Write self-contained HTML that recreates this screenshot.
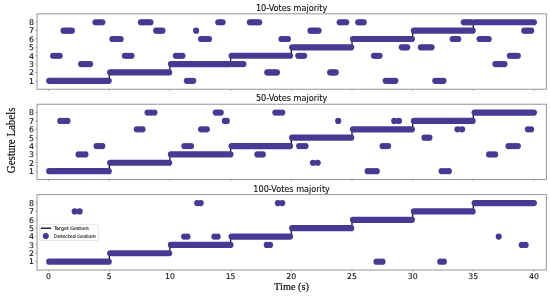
<!DOCTYPE html><html><head><meta charset="utf-8"><title>Votes majority</title><style>html,body{margin:0;padding:0;background:#fff}svg{display:block}text{font-family:"DejaVu Sans","Liberation Sans",sans-serif;fill:#111;stroke:#111;stroke-width:0.12px}.s{font-family:"Liberation Serif","DejaVu Serif",serif;fill:#000;stroke:#000;stroke-width:0.15px}</style></head><body>
<svg width="550" height="296" viewBox="0 0 550 296">
<rect width="550" height="296" fill="#fff"/>
<path d="M48.6,80.8 L109.3,80.8 L109.3,72.5 L169.9,72.5 L169.9,64.1 L230.6,64.1 L230.6,55.7 L291.3,55.7 L291.3,47.4 L352.0,47.4 L352.0,39.0 L412.7,39.0 L412.7,30.6 L473.3,30.6 L473.3,22.3 L534.0,22.3" fill="none" stroke="#000" stroke-width="1.2"/>
<g fill="#463a92">
<rect x="46.1" y="77.73" width="65.7" height="6.2" rx="3.1" ry="3.1"/>
<rect x="107.1" y="69.37" width="65.1" height="6.2" rx="3.1" ry="3.1"/>
<rect x="167.8" y="61.00" width="65.7" height="6.2" rx="3.1" ry="3.1"/>
<rect x="228.5" y="52.63" width="64.6" height="6.2" rx="3.1" ry="3.1"/>
<rect x="289.1" y="44.27" width="65.2" height="6.2" rx="3.1" ry="3.1"/>
<rect x="349.9" y="35.90" width="65.1" height="6.2" rx="3.1" ry="3.1"/>
<rect x="410.8" y="27.53" width="64.9" height="6.2" rx="3.1" ry="3.1"/>
<rect x="471.5" y="19.17" width="65.5" height="6.2" rx="3.1" ry="3.1"/>
<circle cx="53.1" cy="55.73" r="3.1"/>
<circle cx="55.3" cy="55.73" r="3.1"/>
<circle cx="57.4" cy="55.73" r="3.1"/>
<circle cx="59.6" cy="55.73" r="3.1"/>
<circle cx="63.6" cy="30.63" r="3.1"/>
<circle cx="65.7" cy="30.63" r="3.1"/>
<circle cx="67.7" cy="30.63" r="3.1"/>
<circle cx="69.8" cy="30.63" r="3.1"/>
<circle cx="71.8" cy="30.63" r="3.1"/>
<circle cx="81.1" cy="64.10" r="3.1"/>
<circle cx="83.3" cy="64.10" r="3.1"/>
<circle cx="85.6" cy="64.10" r="3.1"/>
<circle cx="87.8" cy="64.10" r="3.1"/>
<circle cx="90.1" cy="64.10" r="3.1"/>
<circle cx="95.5" cy="22.27" r="3.1"/>
<circle cx="97.8" cy="22.27" r="3.1"/>
<circle cx="100.0" cy="22.27" r="3.1"/>
<circle cx="102.3" cy="22.27" r="3.1"/>
<circle cx="112.4" cy="39.00" r="3.1"/>
<circle cx="114.5" cy="39.00" r="3.1"/>
<circle cx="116.5" cy="39.00" r="3.1"/>
<circle cx="118.5" cy="39.00" r="3.1"/>
<circle cx="120.6" cy="39.00" r="3.1"/>
<circle cx="124.9" cy="55.73" r="3.1"/>
<circle cx="127.1" cy="55.73" r="3.1"/>
<circle cx="129.2" cy="55.73" r="3.1"/>
<circle cx="131.4" cy="55.73" r="3.1"/>
<circle cx="140.9" cy="22.27" r="3.1"/>
<circle cx="142.8" cy="22.27" r="3.1"/>
<circle cx="144.7" cy="22.27" r="3.1"/>
<circle cx="146.7" cy="22.27" r="3.1"/>
<circle cx="148.6" cy="22.27" r="3.1"/>
<circle cx="150.5" cy="22.27" r="3.1"/>
<circle cx="156.2" cy="30.63" r="3.1"/>
<circle cx="158.3" cy="30.63" r="3.1"/>
<circle cx="160.3" cy="30.63" r="3.1"/>
<circle cx="162.4" cy="30.63" r="3.1"/>
<circle cx="175.9" cy="55.73" r="3.1"/>
<circle cx="178.1" cy="55.73" r="3.1"/>
<circle cx="180.2" cy="55.73" r="3.1"/>
<circle cx="182.4" cy="55.73" r="3.1"/>
<circle cx="186.9" cy="80.83" r="3.1"/>
<circle cx="189.0" cy="80.83" r="3.1"/>
<circle cx="191.1" cy="80.83" r="3.1"/>
<circle cx="193.2" cy="80.83" r="3.1"/>
<circle cx="196.1" cy="30.63" r="3.1"/>
<circle cx="201.1" cy="39.00" r="3.1"/>
<circle cx="203.1" cy="39.00" r="3.1"/>
<circle cx="205.1" cy="39.00" r="3.1"/>
<circle cx="207.0" cy="39.00" r="3.1"/>
<circle cx="209.0" cy="39.00" r="3.1"/>
<circle cx="218.3" cy="22.27" r="3.1"/>
<circle cx="220.4" cy="22.27" r="3.1"/>
<circle cx="222.6" cy="22.27" r="3.1"/>
<circle cx="233.8" cy="64.10" r="3.1"/>
<circle cx="235.7" cy="64.10" r="3.1"/>
<circle cx="237.6" cy="64.10" r="3.1"/>
<circle cx="239.6" cy="64.10" r="3.1"/>
<circle cx="241.5" cy="64.10" r="3.1"/>
<circle cx="243.4" cy="64.10" r="3.1"/>
<circle cx="249.9" cy="22.27" r="3.1"/>
<circle cx="251.8" cy="22.27" r="3.1"/>
<circle cx="253.6" cy="22.27" r="3.1"/>
<circle cx="255.5" cy="22.27" r="3.1"/>
<circle cx="257.3" cy="22.27" r="3.1"/>
<circle cx="259.2" cy="22.27" r="3.1"/>
<circle cx="267.3" cy="72.47" r="3.1"/>
<circle cx="269.2" cy="72.47" r="3.1"/>
<circle cx="271.1" cy="72.47" r="3.1"/>
<circle cx="273.1" cy="72.47" r="3.1"/>
<circle cx="275.0" cy="72.47" r="3.1"/>
<circle cx="276.9" cy="72.47" r="3.1"/>
<circle cx="281.5" cy="39.00" r="3.1"/>
<circle cx="283.6" cy="39.00" r="3.1"/>
<circle cx="285.8" cy="39.00" r="3.1"/>
<circle cx="287.9" cy="39.00" r="3.1"/>
<circle cx="298.3" cy="55.73" r="3.1"/>
<circle cx="300.2" cy="55.73" r="3.1"/>
<circle cx="302.2" cy="55.73" r="3.1"/>
<circle cx="304.1" cy="55.73" r="3.1"/>
<circle cx="310.5" cy="30.63" r="3.1"/>
<circle cx="312.5" cy="30.63" r="3.1"/>
<circle cx="314.5" cy="30.63" r="3.1"/>
<circle cx="316.5" cy="30.63" r="3.1"/>
<circle cx="318.5" cy="30.63" r="3.1"/>
<circle cx="330.2" cy="72.47" r="3.1"/>
<circle cx="332.0" cy="72.47" r="3.1"/>
<circle cx="333.9" cy="72.47" r="3.1"/>
<circle cx="335.7" cy="72.47" r="3.1"/>
<circle cx="339.7" cy="22.27" r="3.1"/>
<circle cx="341.9" cy="22.27" r="3.1"/>
<circle cx="344.0" cy="22.27" r="3.1"/>
<circle cx="346.2" cy="22.27" r="3.1"/>
<circle cx="358.2" cy="22.27" r="3.1"/>
<circle cx="360.0" cy="22.27" r="3.1"/>
<circle cx="361.9" cy="22.27" r="3.1"/>
<circle cx="363.7" cy="22.27" r="3.1"/>
<circle cx="374.0" cy="55.73" r="3.1"/>
<circle cx="375.8" cy="55.73" r="3.1"/>
<circle cx="377.7" cy="55.73" r="3.1"/>
<circle cx="379.5" cy="55.73" r="3.1"/>
<circle cx="385.7" cy="80.83" r="3.1"/>
<circle cx="387.6" cy="80.83" r="3.1"/>
<circle cx="389.5" cy="80.83" r="3.1"/>
<circle cx="391.5" cy="80.83" r="3.1"/>
<circle cx="393.4" cy="80.83" r="3.1"/>
<circle cx="395.3" cy="80.83" r="3.1"/>
<circle cx="401.8" cy="47.37" r="3.1"/>
<circle cx="403.6" cy="47.37" r="3.1"/>
<circle cx="405.4" cy="47.37" r="3.1"/>
<circle cx="407.2" cy="47.37" r="3.1"/>
<circle cx="420.9" cy="47.37" r="3.1"/>
<circle cx="423.0" cy="47.37" r="3.1"/>
<circle cx="425.2" cy="47.37" r="3.1"/>
<circle cx="427.3" cy="47.37" r="3.1"/>
<circle cx="429.5" cy="47.37" r="3.1"/>
<circle cx="431.6" cy="47.37" r="3.1"/>
<circle cx="435.3" cy="80.83" r="3.1"/>
<circle cx="437.4" cy="80.83" r="3.1"/>
<circle cx="439.4" cy="80.83" r="3.1"/>
<circle cx="441.4" cy="80.83" r="3.1"/>
<circle cx="443.5" cy="80.83" r="3.1"/>
<circle cx="452.7" cy="39.00" r="3.1"/>
<circle cx="454.5" cy="39.00" r="3.1"/>
<circle cx="456.4" cy="39.00" r="3.1"/>
<circle cx="458.2" cy="39.00" r="3.1"/>
<circle cx="463.8" cy="22.27" r="3.1"/>
<circle cx="465.6" cy="22.27" r="3.1"/>
<circle cx="467.4" cy="22.27" r="3.1"/>
<circle cx="469.2" cy="22.27" r="3.1"/>
<circle cx="471.0" cy="22.27" r="3.1"/>
<circle cx="479.6" cy="39.00" r="3.1"/>
<circle cx="481.4" cy="39.00" r="3.1"/>
<circle cx="483.2" cy="39.00" r="3.1"/>
<circle cx="485.1" cy="39.00" r="3.1"/>
<circle cx="486.9" cy="39.00" r="3.1"/>
<circle cx="488.7" cy="39.00" r="3.1"/>
<circle cx="495.4" cy="64.10" r="3.1"/>
<circle cx="497.2" cy="64.10" r="3.1"/>
<circle cx="499.0" cy="64.10" r="3.1"/>
<circle cx="500.9" cy="64.10" r="3.1"/>
<circle cx="502.7" cy="64.10" r="3.1"/>
<circle cx="504.5" cy="64.10" r="3.1"/>
<circle cx="509.9" cy="55.73" r="3.1"/>
<circle cx="511.9" cy="55.73" r="3.1"/>
<circle cx="513.8" cy="55.73" r="3.1"/>
<circle cx="515.8" cy="55.73" r="3.1"/>
<circle cx="517.8" cy="55.73" r="3.1"/>
<circle cx="524.3" cy="30.63" r="3.1"/>
<circle cx="526.6" cy="30.63" r="3.1"/>
<circle cx="528.8" cy="30.63" r="3.1"/>
<circle cx="531.1" cy="30.63" r="3.1"/>
</g>
<rect x="37.0" y="13.9" width="509.3" height="75.3" fill="none" stroke="#7a7a7a" stroke-width="0.8"/>
<line x1="48.6" y1="89.2" x2="48.6" y2="90.8" stroke="#777" stroke-width="0.6"/>
<line x1="109.3" y1="89.2" x2="109.3" y2="90.8" stroke="#777" stroke-width="0.6"/>
<line x1="169.9" y1="89.2" x2="169.9" y2="90.8" stroke="#777" stroke-width="0.6"/>
<line x1="230.6" y1="89.2" x2="230.6" y2="90.8" stroke="#777" stroke-width="0.6"/>
<line x1="291.3" y1="89.2" x2="291.3" y2="90.8" stroke="#777" stroke-width="0.6"/>
<line x1="352.0" y1="89.2" x2="352.0" y2="90.8" stroke="#777" stroke-width="0.6"/>
<line x1="412.7" y1="89.2" x2="412.7" y2="90.8" stroke="#777" stroke-width="0.6"/>
<line x1="473.3" y1="89.2" x2="473.3" y2="90.8" stroke="#777" stroke-width="0.6"/>
<line x1="534.0" y1="89.2" x2="534.0" y2="90.8" stroke="#777" stroke-width="0.6"/>
<line x1="35.4" y1="80.83" x2="37.0" y2="80.83" stroke="#777" stroke-width="0.6"/>
<text x="33.9" y="83.68" font-size="7.8" text-anchor="end">1</text>
<line x1="35.4" y1="72.47" x2="37.0" y2="72.47" stroke="#777" stroke-width="0.6"/>
<text x="33.9" y="75.32" font-size="7.8" text-anchor="end">2</text>
<line x1="35.4" y1="64.10" x2="37.0" y2="64.10" stroke="#777" stroke-width="0.6"/>
<text x="33.9" y="66.95" font-size="7.8" text-anchor="end">3</text>
<line x1="35.4" y1="55.73" x2="37.0" y2="55.73" stroke="#777" stroke-width="0.6"/>
<text x="33.9" y="58.58" font-size="7.8" text-anchor="end">4</text>
<line x1="35.4" y1="47.37" x2="37.0" y2="47.37" stroke="#777" stroke-width="0.6"/>
<text x="33.9" y="50.22" font-size="7.8" text-anchor="end">5</text>
<line x1="35.4" y1="39.00" x2="37.0" y2="39.00" stroke="#777" stroke-width="0.6"/>
<text x="33.9" y="41.85" font-size="7.8" text-anchor="end">6</text>
<line x1="35.4" y1="30.63" x2="37.0" y2="30.63" stroke="#777" stroke-width="0.6"/>
<text x="33.9" y="33.48" font-size="7.8" text-anchor="end">7</text>
<line x1="35.4" y1="22.27" x2="37.0" y2="22.27" stroke="#777" stroke-width="0.6"/>
<text x="33.9" y="25.12" font-size="7.8" text-anchor="end">8</text>
<text x="291.6" y="11.0" font-size="8.15" text-anchor="middle">10-Votes majority</text>
<path d="M48.6,171.1 L109.3,171.1 L109.3,162.8 L169.9,162.8 L169.9,154.4 L230.6,154.4 L230.6,146.0 L291.3,146.0 L291.3,137.7 L352.0,137.7 L352.0,129.3 L412.7,129.3 L412.7,120.9 L473.3,120.9 L473.3,112.6 L534.0,112.6" fill="none" stroke="#000" stroke-width="1.2"/>
<g fill="#463a92">
<rect x="46.1" y="168.03" width="65.7" height="6.2" rx="3.1" ry="3.1"/>
<rect x="107.1" y="159.67" width="65.1" height="6.2" rx="3.1" ry="3.1"/>
<rect x="167.8" y="151.30" width="65.7" height="6.2" rx="3.1" ry="3.1"/>
<rect x="228.5" y="142.93" width="64.6" height="6.2" rx="3.1" ry="3.1"/>
<rect x="289.1" y="134.57" width="65.2" height="6.2" rx="3.1" ry="3.1"/>
<rect x="349.9" y="126.20" width="65.1" height="6.2" rx="3.1" ry="3.1"/>
<rect x="410.8" y="117.83" width="64.9" height="6.2" rx="3.1" ry="3.1"/>
<rect x="471.5" y="109.47" width="65.5" height="6.2" rx="3.1" ry="3.1"/>
<circle cx="60.3" cy="120.93" r="3.1"/>
<circle cx="63.9" cy="120.93" r="3.1"/>
<circle cx="67.4" cy="120.93" r="3.1"/>
<circle cx="78.6" cy="154.40" r="3.1"/>
<circle cx="82.0" cy="154.40" r="3.1"/>
<circle cx="85.4" cy="154.40" r="3.1"/>
<circle cx="96.6" cy="146.03" r="3.1"/>
<circle cx="99.4" cy="146.03" r="3.1"/>
<circle cx="102.3" cy="146.03" r="3.1"/>
<circle cx="136.8" cy="129.30" r="3.1"/>
<circle cx="139.7" cy="129.30" r="3.1"/>
<circle cx="142.5" cy="129.30" r="3.1"/>
<circle cx="147.6" cy="112.57" r="3.1"/>
<circle cx="151.0" cy="112.57" r="3.1"/>
<circle cx="154.4" cy="112.57" r="3.1"/>
<circle cx="184.4" cy="146.03" r="3.1"/>
<circle cx="187.7" cy="146.03" r="3.1"/>
<circle cx="191.0" cy="146.03" r="3.1"/>
<circle cx="201.1" cy="129.30" r="3.1"/>
<circle cx="203.9" cy="129.30" r="3.1"/>
<circle cx="206.8" cy="129.30" r="3.1"/>
<circle cx="215.8" cy="112.57" r="3.1"/>
<circle cx="218.2" cy="112.57" r="3.1"/>
<circle cx="220.7" cy="112.57" r="3.1"/>
<circle cx="224.9" cy="120.93" r="3.1"/>
<circle cx="226.8" cy="120.93" r="3.1"/>
<circle cx="257.4" cy="154.40" r="3.1"/>
<circle cx="260.1" cy="154.40" r="3.1"/>
<circle cx="262.8" cy="154.40" r="3.1"/>
<circle cx="275.4" cy="112.57" r="3.1"/>
<circle cx="278.8" cy="112.57" r="3.1"/>
<circle cx="282.2" cy="112.57" r="3.1"/>
<circle cx="299.2" cy="146.03" r="3.1"/>
<circle cx="302.4" cy="146.03" r="3.1"/>
<circle cx="305.5" cy="146.03" r="3.1"/>
<circle cx="313.0" cy="162.77" r="3.1"/>
<circle cx="317.7" cy="162.77" r="3.1"/>
<circle cx="338.2" cy="120.93" r="3.1"/>
<circle cx="367.7" cy="171.13" r="3.1"/>
<circle cx="370.7" cy="171.13" r="3.1"/>
<circle cx="373.7" cy="171.13" r="3.1"/>
<circle cx="376.7" cy="171.13" r="3.1"/>
<circle cx="382.6" cy="146.03" r="3.1"/>
<circle cx="385.4" cy="146.03" r="3.1"/>
<circle cx="388.1" cy="146.03" r="3.1"/>
<circle cx="394.3" cy="120.93" r="3.1"/>
<circle cx="398.9" cy="120.93" r="3.1"/>
<circle cx="424.5" cy="137.67" r="3.1"/>
<circle cx="426.9" cy="137.67" r="3.1"/>
<circle cx="429.4" cy="137.67" r="3.1"/>
<circle cx="441.7" cy="171.13" r="3.1"/>
<circle cx="445.2" cy="171.13" r="3.1"/>
<circle cx="448.8" cy="171.13" r="3.1"/>
<circle cx="457.5" cy="129.30" r="3.1"/>
<circle cx="462.1" cy="129.30" r="3.1"/>
<circle cx="489.1" cy="154.40" r="3.1"/>
<circle cx="492.1" cy="154.40" r="3.1"/>
<circle cx="495.1" cy="154.40" r="3.1"/>
<circle cx="508.5" cy="146.03" r="3.1"/>
<circle cx="511.6" cy="146.03" r="3.1"/>
<circle cx="514.7" cy="146.03" r="3.1"/>
<circle cx="517.8" cy="146.03" r="3.1"/>
<circle cx="527.9" cy="129.30" r="3.1"/>
<circle cx="531.1" cy="129.30" r="3.1"/>
</g>
<rect x="37.0" y="104.2" width="509.3" height="75.3" fill="none" stroke="#7a7a7a" stroke-width="0.8"/>
<line x1="48.6" y1="179.5" x2="48.6" y2="181.1" stroke="#777" stroke-width="0.6"/>
<line x1="109.3" y1="179.5" x2="109.3" y2="181.1" stroke="#777" stroke-width="0.6"/>
<line x1="169.9" y1="179.5" x2="169.9" y2="181.1" stroke="#777" stroke-width="0.6"/>
<line x1="230.6" y1="179.5" x2="230.6" y2="181.1" stroke="#777" stroke-width="0.6"/>
<line x1="291.3" y1="179.5" x2="291.3" y2="181.1" stroke="#777" stroke-width="0.6"/>
<line x1="352.0" y1="179.5" x2="352.0" y2="181.1" stroke="#777" stroke-width="0.6"/>
<line x1="412.7" y1="179.5" x2="412.7" y2="181.1" stroke="#777" stroke-width="0.6"/>
<line x1="473.3" y1="179.5" x2="473.3" y2="181.1" stroke="#777" stroke-width="0.6"/>
<line x1="534.0" y1="179.5" x2="534.0" y2="181.1" stroke="#777" stroke-width="0.6"/>
<line x1="35.4" y1="171.13" x2="37.0" y2="171.13" stroke="#777" stroke-width="0.6"/>
<text x="33.9" y="173.98" font-size="7.8" text-anchor="end">1</text>
<line x1="35.4" y1="162.77" x2="37.0" y2="162.77" stroke="#777" stroke-width="0.6"/>
<text x="33.9" y="165.62" font-size="7.8" text-anchor="end">2</text>
<line x1="35.4" y1="154.40" x2="37.0" y2="154.40" stroke="#777" stroke-width="0.6"/>
<text x="33.9" y="157.25" font-size="7.8" text-anchor="end">3</text>
<line x1="35.4" y1="146.03" x2="37.0" y2="146.03" stroke="#777" stroke-width="0.6"/>
<text x="33.9" y="148.88" font-size="7.8" text-anchor="end">4</text>
<line x1="35.4" y1="137.67" x2="37.0" y2="137.67" stroke="#777" stroke-width="0.6"/>
<text x="33.9" y="140.52" font-size="7.8" text-anchor="end">5</text>
<line x1="35.4" y1="129.30" x2="37.0" y2="129.30" stroke="#777" stroke-width="0.6"/>
<text x="33.9" y="132.15" font-size="7.8" text-anchor="end">6</text>
<line x1="35.4" y1="120.93" x2="37.0" y2="120.93" stroke="#777" stroke-width="0.6"/>
<text x="33.9" y="123.78" font-size="7.8" text-anchor="end">7</text>
<line x1="35.4" y1="112.57" x2="37.0" y2="112.57" stroke="#777" stroke-width="0.6"/>
<text x="33.9" y="115.42" font-size="7.8" text-anchor="end">8</text>
<text x="291.6" y="101.3" font-size="8.15" text-anchor="middle">50-Votes majority</text>
<path d="M48.6,261.6 L109.3,261.6 L109.3,253.3 L169.9,253.3 L169.9,244.9 L230.6,244.9 L230.6,236.5 L291.3,236.5 L291.3,228.2 L352.0,228.2 L352.0,219.8 L412.7,219.8 L412.7,211.4 L473.3,211.4 L473.3,203.1 L534.0,203.1" fill="none" stroke="#000" stroke-width="1.2"/>
<g fill="#463a92">
<rect x="46.1" y="258.53" width="65.7" height="6.2" rx="3.1" ry="3.1"/>
<rect x="107.1" y="250.17" width="65.1" height="6.2" rx="3.1" ry="3.1"/>
<rect x="167.8" y="241.80" width="65.7" height="6.2" rx="3.1" ry="3.1"/>
<rect x="228.5" y="233.43" width="64.6" height="6.2" rx="3.1" ry="3.1"/>
<rect x="289.1" y="225.07" width="65.2" height="6.2" rx="3.1" ry="3.1"/>
<rect x="349.9" y="216.70" width="65.1" height="6.2" rx="3.1" ry="3.1"/>
<rect x="410.8" y="208.33" width="64.9" height="6.2" rx="3.1" ry="3.1"/>
<rect x="471.5" y="199.97" width="65.5" height="6.2" rx="3.1" ry="3.1"/>
<circle cx="74.7" cy="211.43" r="3.1"/>
<circle cx="79.6" cy="211.43" r="3.1"/>
<circle cx="197.2" cy="203.07" r="3.1"/>
<circle cx="200.7" cy="203.07" r="3.1"/>
<circle cx="184.2" cy="236.53" r="3.1"/>
<circle cx="187.4" cy="236.53" r="3.1"/>
<circle cx="214.4" cy="236.53" r="3.1"/>
<circle cx="217.6" cy="236.53" r="3.1"/>
<circle cx="266.8" cy="244.90" r="3.1"/>
<circle cx="270.0" cy="244.90" r="3.1"/>
<circle cx="277.9" cy="203.07" r="3.1"/>
<circle cx="282.2" cy="203.07" r="3.1"/>
<circle cx="376.5" cy="261.63" r="3.1"/>
<circle cx="379.5" cy="261.63" r="3.1"/>
<circle cx="382.5" cy="261.63" r="3.1"/>
<circle cx="440.3" cy="261.63" r="3.1"/>
<circle cx="443.8" cy="261.63" r="3.1"/>
<circle cx="498.7" cy="236.53" r="3.1"/>
<circle cx="521.8" cy="244.90" r="3.1"/>
<circle cx="525.6" cy="244.90" r="3.1"/>
</g>
<rect x="37.0" y="194.7" width="509.3" height="75.3" fill="none" stroke="#7a7a7a" stroke-width="0.8"/>
<line x1="48.6" y1="270.0" x2="48.6" y2="271.6" stroke="#777" stroke-width="0.6"/>
<line x1="109.3" y1="270.0" x2="109.3" y2="271.6" stroke="#777" stroke-width="0.6"/>
<line x1="169.9" y1="270.0" x2="169.9" y2="271.6" stroke="#777" stroke-width="0.6"/>
<line x1="230.6" y1="270.0" x2="230.6" y2="271.6" stroke="#777" stroke-width="0.6"/>
<line x1="291.3" y1="270.0" x2="291.3" y2="271.6" stroke="#777" stroke-width="0.6"/>
<line x1="352.0" y1="270.0" x2="352.0" y2="271.6" stroke="#777" stroke-width="0.6"/>
<line x1="412.7" y1="270.0" x2="412.7" y2="271.6" stroke="#777" stroke-width="0.6"/>
<line x1="473.3" y1="270.0" x2="473.3" y2="271.6" stroke="#777" stroke-width="0.6"/>
<line x1="534.0" y1="270.0" x2="534.0" y2="271.6" stroke="#777" stroke-width="0.6"/>
<line x1="35.4" y1="261.63" x2="37.0" y2="261.63" stroke="#777" stroke-width="0.6"/>
<text x="33.9" y="264.48" font-size="7.8" text-anchor="end">1</text>
<line x1="35.4" y1="253.27" x2="37.0" y2="253.27" stroke="#777" stroke-width="0.6"/>
<text x="33.9" y="256.12" font-size="7.8" text-anchor="end">2</text>
<line x1="35.4" y1="244.90" x2="37.0" y2="244.90" stroke="#777" stroke-width="0.6"/>
<text x="33.9" y="247.75" font-size="7.8" text-anchor="end">3</text>
<line x1="35.4" y1="236.53" x2="37.0" y2="236.53" stroke="#777" stroke-width="0.6"/>
<text x="33.9" y="239.38" font-size="7.8" text-anchor="end">4</text>
<line x1="35.4" y1="228.17" x2="37.0" y2="228.17" stroke="#777" stroke-width="0.6"/>
<text x="33.9" y="231.02" font-size="7.8" text-anchor="end">5</text>
<line x1="35.4" y1="219.80" x2="37.0" y2="219.80" stroke="#777" stroke-width="0.6"/>
<text x="33.9" y="222.65" font-size="7.8" text-anchor="end">6</text>
<line x1="35.4" y1="211.43" x2="37.0" y2="211.43" stroke="#777" stroke-width="0.6"/>
<text x="33.9" y="214.28" font-size="7.8" text-anchor="end">7</text>
<line x1="35.4" y1="203.07" x2="37.0" y2="203.07" stroke="#777" stroke-width="0.6"/>
<text x="33.9" y="205.92" font-size="7.8" text-anchor="end">8</text>
<text x="291.6" y="191.8" font-size="8.15" text-anchor="middle">100-Votes majority</text>
<text x="48.6" y="279.0" font-size="7.8" text-anchor="middle">0</text>
<text x="109.3" y="279.0" font-size="7.8" text-anchor="middle">5</text>
<text x="169.9" y="279.0" font-size="7.8" text-anchor="middle">10</text>
<text x="230.6" y="279.0" font-size="7.8" text-anchor="middle">15</text>
<text x="291.3" y="279.0" font-size="7.8" text-anchor="middle">20</text>
<text x="352.0" y="279.0" font-size="7.8" text-anchor="middle">25</text>
<text x="412.7" y="279.0" font-size="7.8" text-anchor="middle">30</text>
<text x="473.3" y="279.0" font-size="7.8" text-anchor="middle">35</text>
<text x="534.0" y="279.0" font-size="7.8" text-anchor="middle">40</text>
<text class="s" x="291.5" y="289.6" font-size="10.3" text-anchor="middle">Time (s)</text>
<text class="s" transform="translate(15.1,140.4) rotate(-90) scale(1,1.12)" font-size="10.9" text-anchor="middle">Gesture Labels</text>
<rect x="39.7" y="224.3" width="58.6" height="16.3" rx="1.2" fill="#fff" fill-opacity="0.8" stroke="#d0d0d0" stroke-width="0.6"/>
<line x1="40.9" y1="228.2" x2="51.1" y2="228.2" stroke="#000" stroke-width="1.3"/>
<circle cx="45.8" cy="236.1" r="3.05" fill="#463a92"/>
<text x="54.0" y="230.1" font-size="4.75">Target Gesture</text>
<text x="54.0" y="237.5" font-size="4.75">Detected Gesture</text>
</svg></body></html>
